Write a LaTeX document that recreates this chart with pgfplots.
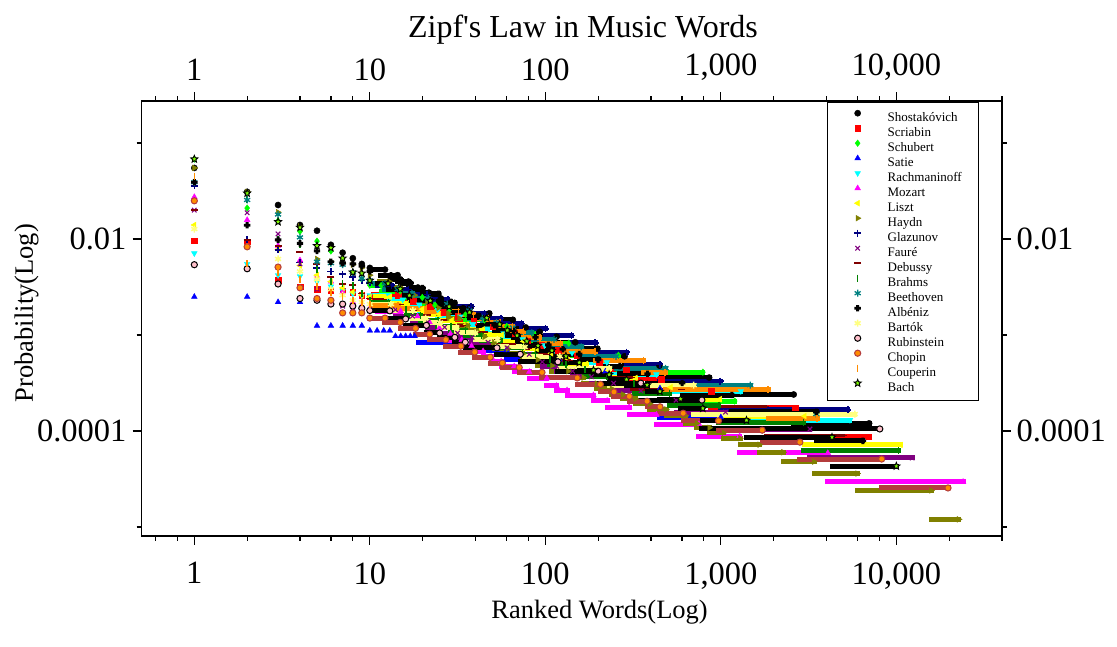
\documentclass[border=0pt]{standalone}
\usepackage{fontspec}
\setmainfont{Liberation Serif}
\usepackage{pgfplots}
\pgfplotsset{compat=1.18}
\definecolor{olivec}{HTML}{808000}
\definecolor{navyc}{HTML}{000080}
\definecolor{purplec}{HTML}{800080}
\definecolor{maroonc}{HTML}{800000}
\definecolor{greenc}{HTML}{008000}
\definecolor{tealc}{HTML}{008080}
\definecolor{limec}{HTML}{00FF00}
\definecolor{lawnc}{HTML}{7CFC00}
\definecolor{pinkc}{HTML}{FFC0CB}
\definecolor{orangec}{HTML}{FF8C00}
\definecolor{chopedge}{HTML}{B43C3C}
\definecolor{paley}{HTML}{FFFF80}
\definecolor{yellowc}{HTML}{FFFF00}
\definecolor{cyanc}{HTML}{00FFFF}
\definecolor{magc}{HTML}{FF00FF}
\definecolor{bluec}{HTML}{0000FF}
\definecolor{redc}{HTML}{FF0000}
\pgfdeclareplotmark{bstar}{%
 \pgfpathmoveto{\pgfpointpolar{90}{1.25\pgfplotmarksize}}%
 \pgfpathlineto{\pgfpointpolar{126}{0.55\pgfplotmarksize}}%
 \pgfpathlineto{\pgfpointpolar{162}{1.25\pgfplotmarksize}}%
 \pgfpathlineto{\pgfpointpolar{198}{0.55\pgfplotmarksize}}%
 \pgfpathlineto{\pgfpointpolar{234}{1.25\pgfplotmarksize}}%
 \pgfpathlineto{\pgfpointpolar{270}{0.55\pgfplotmarksize}}%
 \pgfpathlineto{\pgfpointpolar{306}{1.25\pgfplotmarksize}}%
 \pgfpathlineto{\pgfpointpolar{342}{0.55\pgfplotmarksize}}%
 \pgfpathlineto{\pgfpointpolar{18}{1.25\pgfplotmarksize}}%
 \pgfpathlineto{\pgfpointpolar{54}{0.55\pgfplotmarksize}}%
 \pgfpathclose\pgfusepathqfillstroke}
\pgfdeclareplotmark{fplus}{%
 \pgfpathrectangle{\pgfpoint{-\pgfplotmarksize}{-0.45\pgfplotmarksize}}{\pgfpoint{2\pgfplotmarksize}{0.9\pgfplotmarksize}}%
 \pgfpathrectangle{\pgfpoint{-0.45\pgfplotmarksize}{-\pgfplotmarksize}}{\pgfpoint{0.9\pgfplotmarksize}{2\pgfplotmarksize}}%
 \pgfusepathqfill}
\pgfplotsset{
 bar/.style={forget plot, no marks, line width=5pt, jump mark left, line cap=rect},
 pts/.style={only marks, mark size=3.1pt},
}
\begin{document}
\begin{tikzpicture}
\begin{axis}[
 name=main, at={(0,0)}, anchor=south west,
 xmode=log, ymode=log,
 scale only axis, width=860.5pt, height=435pt,
 xmin=0.5, xmax=40000, ymin=8.05e-6, ymax=0.274,
 axis line style={line width=1.8pt},
 tick align=outside, tick pos=both,
 major tick length=9pt, minor tick length=5pt,
 every tick/.style={black, line width=1.3pt},
 xtick={1,10,100,1000,10000},
 xticklabels={1,10,100,{1,000},{10,000}},
 minor xtick={0.6,0.8,2,4,6,8,20,40,60,80,200,400,600,800,2000,4000,6000,8000,20000,40000},
 ytick={0.01,0.0001}, yticklabels={0.01,0.0001},
 minor ytick={0.1,0.001,0.00001},
 xticklabel pos=lower, yticklabel pos=left,
 tick label style={font=\fontsize{32.5}{33}\selectfont},
 xticklabel style={yshift=-14pt},
 yticklabel style={xshift=-2.5pt},
 title={Zipf\textquotesingle s Law in Music Words},
 title style={at={(axis description cs:0.5131,1.1333)}, anchor=base, font=\fontsize{32}{36}\selectfont},
 xlabel={Ranked Words(Log)},
 xlabel style={at={(axis description cs:0.5323,-0.1885)}, anchor=base, font=\fontsize{26.5}{30}\selectfont},
 ylabel={Probability(Log)},
 ylabel style={at={(axis description cs:-0.1261,0.5126)}, anchor=base, font=\fontsize{26.5}{30}\selectfont},
 legend cell align=left,
 legend image code/.code={\path[draw=none,fill=none] (0pt,0pt) -- (28pt,0pt); \draw[mark repeat=2,mark phase=2,#1] plot coordinates {(0pt,3pt)(14pt,3pt)(28pt,3pt)};},
 legend style={at={(axis description cs:0.9721,0.9977)}, anchor=north east, draw=black, fill=white,
   inner xsep=16pt, inner ysep=7pt, row sep=1pt, column sep=16pt,
   font=\fontsize{13}{15}\selectfont,
   nodes={inner sep=0pt, text height=12.5pt, text depth=1.5pt}},
]
% 1 Shostakovich
\addplot[bar, black] coordinates {(10.5,4.8e-3)(12.2,4.2e-3)(14.4,3.6e-3)(16.6,3.12e-3)(18.8,2.76e-3)(21.7,2.4e-3)(25.4,2.16e-3)(30.4,1.92e-3)(37.2,1.68e-3)(47.9,1.44e-3)(65.3,1.2e-3)(77.3,1.08e-3)(93,9.6e-4)(116,8.4e-4)(148,7.2e-4)(198,6e-4)(283,4.8e-4)(447,3.6e-4)(858,2.4e-4)(2600,1.2e-4)(7000,1.2e-4)};
\addplot[pts, mark=*, black] coordinates {(1,0.055)(2,0.031)(3,0.0226)(4,0.0140)(5,0.0122)(6,0.0087)(7,0.0072)(8,0.0063)(9,0.0055)(10,0.0050)(12.2,4.8e-3)(14.4,4.2e-3)(16.6,3.6e-3)(18.8,3.12e-3)(21.7,2.76e-3)(25.4,2.4e-3)(30.4,2.16e-3)(37.2,1.92e-3)(47.9,1.68e-3)(65.3,1.44e-3)(77.3,1.2e-3)(93,1.08e-3)(116,9.6e-4)(148,8.4e-4)(198,7.2e-4)(283,6e-4)(447,4.8e-4)(858,3.6e-4)(2600,2.4e-4)(7000,1.2e-4)};
\addlegendentry{Shostakóvich}
% 2 Scriabin
\addplot[bar, redc] coordinates {(10.5,2.61e-3)(14.5,2.262e-3)(17.6,2.0e-3)(22,1.74e-3)(26.1,1.566e-3)(31.6,1.392e-3)(39,1.218e-3)(50,1.044e-3)(66.8,8.7e-4)(79.3,7.83e-4)(95.5,6.96e-4)(118,6.09e-4)(151,5.22e-4)(203,4.35e-4)(290,3.48e-4)(459,2.61e-4)(878,1.74e-4)(2660,8.7e-5)(6950,8.7e-5)};
\addplot[pts, mark=square*, mark size=2.8pt, redc] coordinates {(1,0.0096)(2,0.0094)(3,0.0037)(4,0.0032)(5,0.0030)(6,0.0029)(7,0.0029)(8,0.0028)(9,0.0026)(10,0.0025)(14.5,2.61e-3)(17.6,2.262e-3)(22,2.0e-3)(26.1,1.74e-3)(31.6,1.566e-3)(39,1.392e-3)(50,1.218e-3)(66.8,1.044e-3)(79.3,8.7e-4)(95.5,7.83e-4)(118,6.96e-4)(151,6.09e-4)(203,5.22e-4)(290,4.35e-4)(459,3.48e-4)(878,2.61e-4)(2660,1.74e-4)(6950,8.7e-5)};
\addlegendentry{Scriabin}
% 3 Schubert
\addplot[bar, limec] coordinates {(10.5,3.28e-3)(11.6,2.87e-3)(14.9,2.46e-3)(19.9,2.05e-3)(23.5,1.845e-3)(28.4,1.64e-3)(35.2,1.435e-3)(45,1.23e-3)(60.3,1.025e-3)(86,8.2e-4)(136,6.15e-4)(261,4.1e-4)(790,2.05e-4)(1200,2.05e-4)};
\addplot[pts, mark=diamond*, mark size=3.3pt, limec] coordinates {(1,0.068)(2,0.021)(3,0.0155)(4,0.0120)(5,0.0095)(6,0.0075)(7,0.0062)(8,0.0045)(9,0.0038)(10,0.0033)(11.6,3.28e-3)(14.9,2.87e-3)(19.9,2.46e-3)(23.5,2.05e-3)(28.4,1.845e-3)(35.2,1.64e-3)(45,1.435e-3)(60.3,1.23e-3)(86,1.025e-3)(136,8.2e-4)(261,6.15e-4)(790,4.1e-4)(1200,2.05e-4)};
\addlegendentry{Schubert}
% 4 Satie
\addplot[bar, bluec] coordinates {(19,8.34e-4)(35,6.95e-4)(60,5.56e-4)(120,4.17e-4)(220,2.78e-4)(450,1.39e-4)(1000,1.39e-4)};
\addplot[pts, mark=triangle*, mark size=3.3pt, bluec] coordinates {(1,0.0025)(2,0.0025)(3,0.0022)(4,0.0022)(5,0.00125)(6,0.00125)(7,0.00125)(8,0.00125)(9,0.00125)(10,0.00111)(11,0.00111)(12,0.00111)(13,0.00111)(14,9.73e-4)(15,9.73e-4)(16,9.73e-4)(17,9.73e-4)(18,9.73e-4)(35,8.34e-4)(60,6.95e-4)(120,5.56e-4)(220,4.17e-4)(450,2.78e-4)(1000,1.39e-4)};
\addlegendentry{Satie}
% 5 Rachmaninoff
\addplot[bar, cyanc] coordinates {(10.8,2.6e-3)(12.8,2.34e-3)(15.4,2.08e-3)(19.1,1.82e-3)(24.4,1.56e-3)(32.7,1.3e-3)(38.7,1.17e-3)(46.7,1.04e-3)(57.8,9.1e-4)(74,7.8e-4)(99,6.5e-4)(142,5.2e-4)(224,3.9e-4)(429,2.6e-4)(1300,1.3e-4)(5440,1.3e-4)};
\addplot[pts, mark=triangle*, mark size=3.3pt, mark options={rotate=180}, cyanc] coordinates {(1,0.0071)(2,0.0055)(3,0.0042)(4,0.0041)(5,0.0036)(6,0.0032)(7,0.0029)(8,0.0027)(9,0.0026)(10,0.0026)(12.8,2.6e-3)(15.4,2.34e-3)(19.1,2.08e-3)(24.4,1.82e-3)(32.7,1.56e-3)(38.7,1.3e-3)(46.7,1.17e-3)(57.8,1.04e-3)(74,9.1e-4)(99,7.8e-4)(142,6.5e-4)(224,5.2e-4)(429,3.9e-4)(1300,2.6e-4)(5440,1.3e-4)};
\addlegendentry{Rachmaninoff}
% 6 Mozart
\addplot[bar, magc] coordinates {(11,1.77e-3)(15,1.564e-3)(18.7,1.357e-3)(21.9,1.18e-3)(24.9,1.03e-3)(28.8,8.85e-4)(33.4,7.67e-4)(38,6.79e-4)(44.2,5.9e-4)(49.3,5.31e-4)(56,4.72e-4)(66.5,4.13e-4)(81,3.54e-4)(102,2.95e-4)(116,2.655e-4)(133,2.36e-4)(188,2.065e-4)(225,1.77e-4)(300,1.475e-4)(430,1.18e-4)(750,8.85e-5)(1280,5.9e-5)(4070,2.95e-5)(24000,2.95e-5)};
\addplot[pts, mark=triangle*, mark size=3.3pt, magc] coordinates {(1,0.0274)(2,0.0158)(3,0.0085)(4,0.0060)(5,0.0041)(6,0.0036)(7,0.0028)(8,0.0022)(9,0.0020)(10,0.0019)(15,1.77e-3)(18.7,1.564e-3)(21.9,1.357e-3)(24.9,1.18e-3)(28.8,1.03e-3)(33.4,8.85e-4)(38,7.67e-4)(44.2,6.79e-4)(49.3,5.9e-4)(56,5.31e-4)(66.5,4.72e-4)(81,4.13e-4)(102,3.54e-4)(116,2.95e-4)(133,2.655e-4)(188,2.36e-4)(225,2.065e-4)(300,1.77e-4)(430,1.475e-4)(750,1.18e-4)(1280,8.85e-5)(4070,5.9e-5)(24000,2.95e-5)};
\addlegendentry{Mozart}
% 7 Liszt
\addplot[bar, yellowc] coordinates {(10.2,2.5e-3)(13,2.145e-3)(16.3,1.859e-3)(19.9,1.645e-3)(24.8,1.43e-3)(29.4,1.287e-3)(35.6,1.144e-3)(44,1.0e-3)(56.4,8.58e-4)(75.3,7.15e-4)(89.3,6.44e-4)(108,5.72e-4)(133,5.0e-4)(171,4.29e-4)(229,3.575e-4)(327,2.86e-4)(518,2.145e-4)(988,1.43e-4)(3000,7.15e-5)(10600,7.15e-5)};
\addplot[pts, mark=triangle*, mark size=3.3pt, mark options={rotate=90}, yellowc] coordinates {(1,0.014)(2,0.0083)(3,0.0078)(4,0.0053)(5,0.0042)(6,0.0036)(7,0.0031)(8,0.0028)(9,0.0026)(10,0.0025)(13,2.5e-3)(16.3,2.145e-3)(19.9,1.859e-3)(24.8,1.645e-3)(29.4,1.43e-3)(35.6,1.287e-3)(44,1.144e-3)(56.4,1.0e-3)(75.3,8.58e-4)(89.3,7.15e-4)(108,6.44e-4)(133,5.72e-4)(171,5.0e-4)(229,4.29e-4)(327,3.575e-4)(518,2.86e-4)(988,2.145e-4)(3000,1.43e-4)(10600,7.15e-5)};
\addlegendentry{Liszt}
% 8 Haydn
\addplot[bar, olivec] coordinates {(11.4,3.6e-3)(12.9,3.12e-3)(15,2.6e-3)(18,2.22e-3)(21.2,1.92e-3)(24.6,1.68e-3)(28,1.5e-3)(32.3,1.26e-3)(36,1.104e-3)(40.4,9.6e-4)(45,8.4e-4)(51,7.2e-4)(61,6.36e-4)(74.3,5.52e-4)(90.4,4.8e-4)(109,4.2e-4)(135,3.6e-4)(165,3.12e-4)(196,2.76e-4)(239,2.4e-4)(277,2.16e-4)(326,1.92e-4)(394,1.68e-4)(488,1.44e-4)(630,1.2e-4)(730,1.08e-4)(861,9.6e-5)(1038,8.4e-5)(1288,7.2e-5)(1660,6e-5)(2270,4.8e-5)(3396,3.6e-5)(5998,2.4e-5)(15800,1.2e-5)(22700,1.2e-5)};
\addplot[pts, mark=triangle*, mark size=3.3pt, mark options={rotate=-90}, olivec] coordinates {(1,0.055)(2,0.031)(3,0.019)(4,0.0135)(5,0.0062)(6,0.0058)(7,0.0056)(8,0.0054)(9,0.0050)(10,0.0042)(12.9,3.6e-3)(15,3.12e-3)(18,2.6e-3)(21.2,2.22e-3)(24.6,1.92e-3)(28,1.68e-3)(32.3,1.5e-3)(36,1.26e-3)(40.4,1.104e-3)(45,9.6e-4)(51,8.4e-4)(61,7.2e-4)(74.3,6.36e-4)(90.4,5.52e-4)(109,4.8e-4)(135,4.2e-4)(165,3.6e-4)(196,3.12e-4)(239,2.76e-4)(277,2.4e-4)(326,2.16e-4)(394,1.92e-4)(488,1.68e-4)(630,1.44e-4)(730,1.2e-4)(861,1.08e-4)(1038,9.6e-5)(1288,8.4e-5)(1660,7.2e-5)(2270,6e-5)(3396,4.8e-5)(5998,3.6e-5)(15800,2.4e-5)(22700,1.2e-5)};
\addlegendentry{Haydn}
% 9 Glazunov
\addplot[bar, navyc] coordinates {(11,3.31e-3)(13.3,2.979e-3)(16.6,2.648e-3)(21.2,2.317e-3)(27.8,1.986e-3)(37.8,1.655e-3)(45.1,1.49e-3)(55.8,1.324e-3)(73.3,1.1585e-3)(100,9.93e-4)(141,8.28e-4)(192,6.62e-4)(290,4.97e-4)(450,3.31e-4)(990,1.655e-4)(5300,1.655e-4)};
\addplot[pts, mark=+, mark size=3.5pt, line width=1.5pt, navyc] coordinates {(1,0.0357)(2,0.0098)(3,0.0077)(4,0.0057)(5,0.0050)(6,0.0046)(7,0.0043)(8,0.0040)(9,0.0037)(10,0.0035)(13.3,3.31e-3)(16.6,2.979e-3)(21.2,2.648e-3)(27.8,2.317e-3)(37.8,1.986e-3)(45.1,1.655e-3)(55.8,1.49e-3)(73.3,1.324e-3)(100,1.1585e-3)(141,9.93e-4)(192,8.28e-4)(290,6.62e-4)(450,4.97e-4)(990,3.31e-4)(5300,1.655e-4)};
\addlegendentry{Glazunov}
% 10 Faure
\addplot[bar, purplec] coordinates {(10.9,1.834e-3)(14,1.572e-3)(17.5,1.362e-3)(21.3,1.205e-3)(26.7,1.048e-3)(31.6,9.43e-4)(38.2,8.38e-4)(47.2,7.34e-4)(60.5,6.29e-4)(81,5.24e-4)(96,4.72e-4)(116,4.19e-4)(143,3.67e-4)(183,3.144e-4)(245,2.62e-4)(351,2.096e-4)(556,1.572e-4)(1062,1.048e-4)(3220,5.24e-5)(12300,5.24e-5)};
\addplot[pts, mark=x, mark size=3.2pt, line width=1.1pt, purplec] coordinates {(1,0.020)(2,0.0188)(3,0.0113)(4,0.0055)(5,0.0030)(6,0.0021)(7,0.0020)(8,0.0019)(9,0.0019)(10,0.0018)(14,1.834e-3)(17.5,1.572e-3)(21.3,1.362e-3)(26.7,1.205e-3)(31.6,1.048e-3)(38.2,9.43e-4)(47.2,8.38e-4)(60.5,7.34e-4)(81,6.29e-4)(96,5.24e-4)(116,4.72e-4)(143,4.19e-4)(183,3.67e-4)(245,3.144e-4)(351,2.62e-4)(556,2.096e-4)(1062,1.572e-4)(3220,1.048e-4)(12300,5.24e-5)};
\addlegendentry{Fauré}
% 11 Debussy
\addplot[bar, line width=2.5pt, maroonc] coordinates {(10.5,2.34e-3)(11.9,2.07e-3)(14.9,1.8e-3)(17.7,1.62e-3)(21.3,1.44e-3)(26.4,1.26e-3)(33.8,1.08e-3)(45.2,9e-4)(53.6,8.1e-4)(64.6,7.2e-4)(80,6.3e-4)(102,5.4e-4)(137,4.5e-4)(196,3.6e-4)(310,2.7e-4)(593,1.8e-4)(1800,9e-5)(5000,9e-5)};
\addplot[pts, mark=-, mark size=3.5pt, line width=1.5pt, maroonc] coordinates {(1,0.020)(2,0.0098)(3,0.0085)(4,0.0073)(5,0.0055)(6,0.0040)(7,0.0034)(8,0.0033)(9,0.0027)(10,0.0024)(11.9,2.34e-3)(14.9,2.07e-3)(17.7,1.8e-3)(21.3,1.62e-3)(26.4,1.44e-3)(33.8,1.26e-3)(45.2,1.08e-3)(53.6,9e-4)(64.6,8.1e-4)(80,7.2e-4)(102,6.3e-4)(137,5.4e-4)(196,4.5e-4)(310,3.6e-4)(593,2.7e-4)(1800,1.8e-4)(5000,9e-5)};
\addlegendentry{Debussy}
% 12 Brahms
\addplot[bar, greenc] coordinates {(10.5,2.17e-3)(12.8,1.86e-3)(16.1,1.612e-3)(19.5,1.426e-3)(24.4,1.24e-3)(29,1.116e-3)(35,9.92e-4)(43.3,8.68e-4)(55.5,7.44e-4)(74.1,6.2e-4)(87.9,5.58e-4)(106,4.96e-4)(131,4.34e-4)(168,3.72e-4)(225,3.1e-4)(321,2.48e-4)(509,1.86e-4)(973,1.24e-4)(2950,6.2e-5)(10300,6.2e-5)};
\addplot[pts, mark=|, mark size=3.5pt, line width=1.5pt, greenc] coordinates {(1,0.045)(2,0.0255)(3,0.0098)(4,0.0088)(5,0.0048)(6,0.0036)(7,0.0034)(8,0.0033)(9,0.0027)(10,0.0023)(12.8,2.17e-3)(16.1,1.86e-3)(19.5,1.612e-3)(24.4,1.426e-3)(29,1.24e-3)(35,1.116e-3)(43.3,9.92e-4)(55.5,8.68e-4)(74.1,7.44e-4)(87.9,6.2e-4)(106,5.58e-4)(131,4.96e-4)(168,4.34e-4)(225,3.72e-4)(321,3.1e-4)(509,2.48e-4)(973,1.86e-4)(2950,1.24e-4)(10300,6.2e-5)};
\addlegendentry{Brahms}
% 13 Beethoven
\addplot[bar, tealc] coordinates {(10.5,3.45e-3)(12.2,3e-3)(14.4,2.7e-3)(17.4,2.4e-3)(21.5,2.1e-3)(27.6,1.8e-3)(36.9,1.5e-3)(43.7,1.35e-3)(52.7,1.2e-3)(65.3,1.05e-3)(83.6,9e-4)(112,7.5e-4)(160,6e-4)(253,4.5e-4)(484,3e-4)(1470,1.5e-4)(3500,1.5e-4)};
\addplot[pts, mark=asterisk, mark size=3.5pt, line width=1.3pt, tealc] coordinates {(1,0.039)(2,0.0255)(3,0.018)(4,0.0104)(5,0.0058)(6,0.0056)(7,0.0054)(8,0.0045)(9,0.0039)(10,0.0037)(12.2,3.45e-3)(14.4,3e-3)(17.4,2.7e-3)(21.5,2.4e-3)(27.6,2.1e-3)(36.9,1.8e-3)(43.7,1.5e-3)(52.7,1.35e-3)(65.3,1.2e-3)(83.6,1.05e-3)(112,9e-4)(160,7.5e-4)(253,6e-4)(484,4.5e-4)(1470,3e-4)(3500,1.5e-4)};
\addlegendentry{Beethoven}
% 14 Albeniz
\addplot[bar, black] coordinates {(11.5,4.19e-3)(13.2,3.79e-3)(15,3.48e-3)(17.1,3.08e-3)(20,2.69e-3)(24.6,2.21e-3)(29,1.896e-3)(34,1.58e-3)(41.5,1.264e-3)(51.3,1.106e-3)(65.8,9.48e-4)(87.9,7.9e-4)(104,7.11e-4)(126,6.32e-4)(156,5.53e-4)(200,4.74e-4)(266,3.95e-4)(382,3.16e-4)(602,2.37e-4)(1155,1.58e-4)(3500,7.9e-5)(6450,7.9e-5)};
\addplot[pts, mark=fplus, mark size=3.2pt, black] coordinates {(1,0.039)(2,0.0139)(3,0.0098)(4,0.0090)(5,0.0075)(6,0.0058)(7,0.0056)(8,0.0055)(9,0.0052)(10,0.0046)(13.2,4.19e-3)(15,3.79e-3)(17.1,3.48e-3)(20,3.08e-3)(24.6,2.69e-3)(29,2.21e-3)(34,1.896e-3)(41.5,1.58e-3)(51.3,1.264e-3)(65.8,1.106e-3)(87.9,9.48e-4)(104,7.9e-4)(126,7.11e-4)(156,6.32e-4)(200,5.53e-4)(266,4.74e-4)(382,3.95e-4)(602,3.16e-4)(1155,2.37e-4)(3500,1.58e-4)(6450,7.9e-5)};
\addlegendentry{Albéniz}
% 15 Bartok
\addplot[bar, paley] coordinates {(10.3,2.1e-3)(13.2,1.8e-3)(17.6,1.5e-3)(20.8,1.35e-3)(25.1,1.2e-3)(31.1,1.05e-3)(39.8,9e-4)(53.3,7.5e-4)(76.2,6e-4)(121,4.5e-4)(231,3e-4)(700,1.5e-4)(5800,1.5e-4)};
\addplot[pts, mark=asterisk, mark size=3.5pt, line width=1.5pt, paley] coordinates {(1,0.0127)(2,0.0083)(3,0.0062)(4,0.0046)(5,0.0038)(6,0.0030)(7,0.0026)(8,0.0023)(9,0.0022)(10,0.0021)(13.2,2.1e-3)(17.6,1.8e-3)(20.8,1.5e-3)(25.1,1.35e-3)(31.1,1.2e-3)(39.8,1.05e-3)(53.3,9e-4)(76.2,7.5e-4)(121,6e-4)(231,4.5e-4)(700,3e-4)(5800,1.5e-4)};
\addlegendentry{Bartók}
% 16 Rubinstein
\addplot[bar, black] coordinates {(10.2,1.785e-3)(13,1.47e-3)(16,1.26e-3)(21,1.05e-3)(25,9.45e-4)(30.5,8.4e-4)(35,7.35e-4)(53,6.3e-4)(72,5.25e-4)(118,4.2e-4)(200,3.15e-4)(350,2.1e-4)(780,1.05e-4)(8050,1.05e-4)};
\addplot[pts, mark=*, mark size=3.1pt, mark options={fill=pinkc, draw=black, line width=1pt}] coordinates {(1,0.0054)(2,0.0049)(3,0.0034)(4,0.0024)(5,0.0023)(6,0.0021)(7,0.0021)(8,0.0020)(9,0.0019)(10,0.0018)(13,1.785e-3)(16,1.47e-3)(21,1.26e-3)(25,1.05e-3)(30.5,9.45e-4)(35,8.4e-4)(53,7.35e-4)(72,6.3e-4)(118,5.25e-4)(200,4.2e-4)(350,3.15e-4)(780,2.1e-4)(8050,1.05e-4)};
\addlegendentry{Rubinstein}
% 17 Chopin
\addplot[bar, chopedge] coordinates {(10.5,1.5e-3)(12.2,1.352e-3)(14.9,1.173e-3)(18.2,1.02e-3)(21.9,8.925e-4)(27.1,7.65e-4)(33,6.63e-4)(39.6,5.865e-4)(48.5,5.1e-4)(56.9,4.59e-4)(71,4.08e-4)(95.7,3.57e-4)(152,3.06e-4)(206,2.55e-4)(246,2.295e-4)(301,2.04e-4)(380,1.785e-4)(450,1.53e-4)(610,1.275e-4)(970,1.02e-4)(1720,7.65e-5)(2820,5.1e-5)(8250,2.55e-5)(19700,2.55e-5)};
\addplot[pts, mark=*, mark size=3.1pt, mark options={fill=orangec, draw=chopedge, line width=1pt}] coordinates {(1,0.025)(2,0.0083)(3,0.0051)(4,0.0031)(5,0.0024)(6,0.0023)(7,0.0017)(8,0.0017)(9,0.0017)(10,0.0015)(12.2,1.5e-3)(14.9,1.352e-3)(18.2,1.173e-3)(21.9,1.02e-3)(27.1,8.925e-4)(33,7.65e-4)(39.6,6.63e-4)(48.5,5.865e-4)(56.9,5.1e-4)(71,4.59e-4)(95.7,4.08e-4)(152,3.57e-4)(206,3.06e-4)(246,2.55e-4)(301,2.295e-4)(380,2.04e-4)(450,1.785e-4)(610,1.53e-4)(970,1.275e-4)(1720,1.02e-4)(2820,7.65e-5)(8250,5.1e-5)(19700,2.55e-5)};
\addlegendentry{Chopin}
% 18 Couperin
\addplot[bar, orangec] coordinates {(10.5,2.04e-3)(14.5,1.904e-3)(21,1.768e-3)(32,1.632e-3)(39,1.496e-3)(47,1.36e-3)(55,1.224e-3)(65,1.088e-3)(75,9.52e-4)(93,8.16e-4)(122,6.8e-4)(192,5.44e-4)(362,4.08e-4)(481,2.72e-4)(1860,1.36e-4)(3540,1.36e-4)};
\addplot[pts, mark=|, mark size=3.5pt, line width=1.5pt, orangec] coordinates {(1,0.045)(2,0.0055)(3,0.0045)(4,0.0038)(5,0.0032)(6,0.0028)(7,0.0025)(8,0.0023)(9,0.0022)(10,0.0021)(14.5,2.04e-3)(21,1.904e-3)(32,1.768e-3)(39,1.632e-3)(47,1.496e-3)(55,1.36e-3)(65,1.224e-3)(75,1.088e-3)(93,9.52e-4)(122,8.16e-4)(192,6.8e-4)(362,5.44e-4)(481,4.08e-4)(1860,2.72e-4)(3540,1.36e-4)};
\addlegendentry{Couperin}
% 19 Bach
\addplot[bar, black] coordinates {(11,3.44e-3)(12.7,3.01e-3)(14.9,2.58e-3)(16.8,2.279e-3)(22.1,1.978e-3)(28.3,1.72e-3)(37,1.505e-3)(46.4,1.29e-3)(55,1.118e-3)(60.7,9.89e-4)(69,8.6e-4)(78.4,7.74e-4)(90.8,6.88e-4)(109,6.02e-4)(131,5.16e-4)(156,4.3e-4)(188,3.87e-4)(231,3.44e-4)(290,3.01e-4)(380,2.58e-4)(450,2.15e-4)(590,1.72e-4)(790,1.29e-4)(1400,8.6e-5)(4300,4.3e-5)(10000,4.3e-5)};
\addplot[pts, mark=bstar, mark size=3pt, mark options={fill=lawnc, draw=black, line width=0.9pt}] coordinates {(1,0.068)(2,0.030)(3,0.0151)(4,0.0132)(5,0.0085)(6,0.0081)(7,0.0063)(8,0.0045)(9,0.0044)(10,0.0037)(12.7,3.44e-3)(14.9,3.01e-3)(16.8,2.58e-3)(22.1,2.279e-3)(28.3,1.978e-3)(37,1.72e-3)(46.4,1.505e-3)(55,1.29e-3)(60.7,1.118e-3)(69,9.89e-4)(78.4,8.6e-4)(90.8,7.74e-4)(109,6.88e-4)(131,6.02e-4)(156,5.16e-4)(188,4.3e-4)(231,3.87e-4)(290,3.44e-4)(380,3.01e-4)(450,2.58e-4)(590,2.15e-4)(790,1.72e-4)(1400,1.29e-4)(4300,8.6e-5)(10000,4.3e-5)};
\addlegendentry{Bach}
\end{axis}
\begin{axis}[
 at={(0,0)}, anchor=south west,
 xmode=log, ymode=log,
 scale only axis, width=860.5pt, height=435pt,
 xmin=0.5, xmax=40000, ymin=8.05e-6, ymax=0.274,
 axis line style={draw=none}, tick style={draw=none},
 tick align=outside, major tick length=9pt,
 xtick={1,10,100,1000,10000},
 xticklabels={1,10,100,{1,000},{10,000}},
 ytick={0.01,0.0001}, yticklabels={0.01,0.0001},
 xticklabel pos=upper, yticklabel pos=upper,
 tick label style={font=\fontsize{32.5}{33}\selectfont},
 xticklabel style={yshift=8pt},
 yticklabel style={xshift=2pt},
]
\addplot[draw=none, forget plot] coordinates {(1,0.01)};
\end{axis}
\pgfresetboundingbox
\useasboundingbox (main.south west) ++(-141.5pt,-111pt) rectangle ++(1117pt,647pt);
\end{tikzpicture}
\end{document}
